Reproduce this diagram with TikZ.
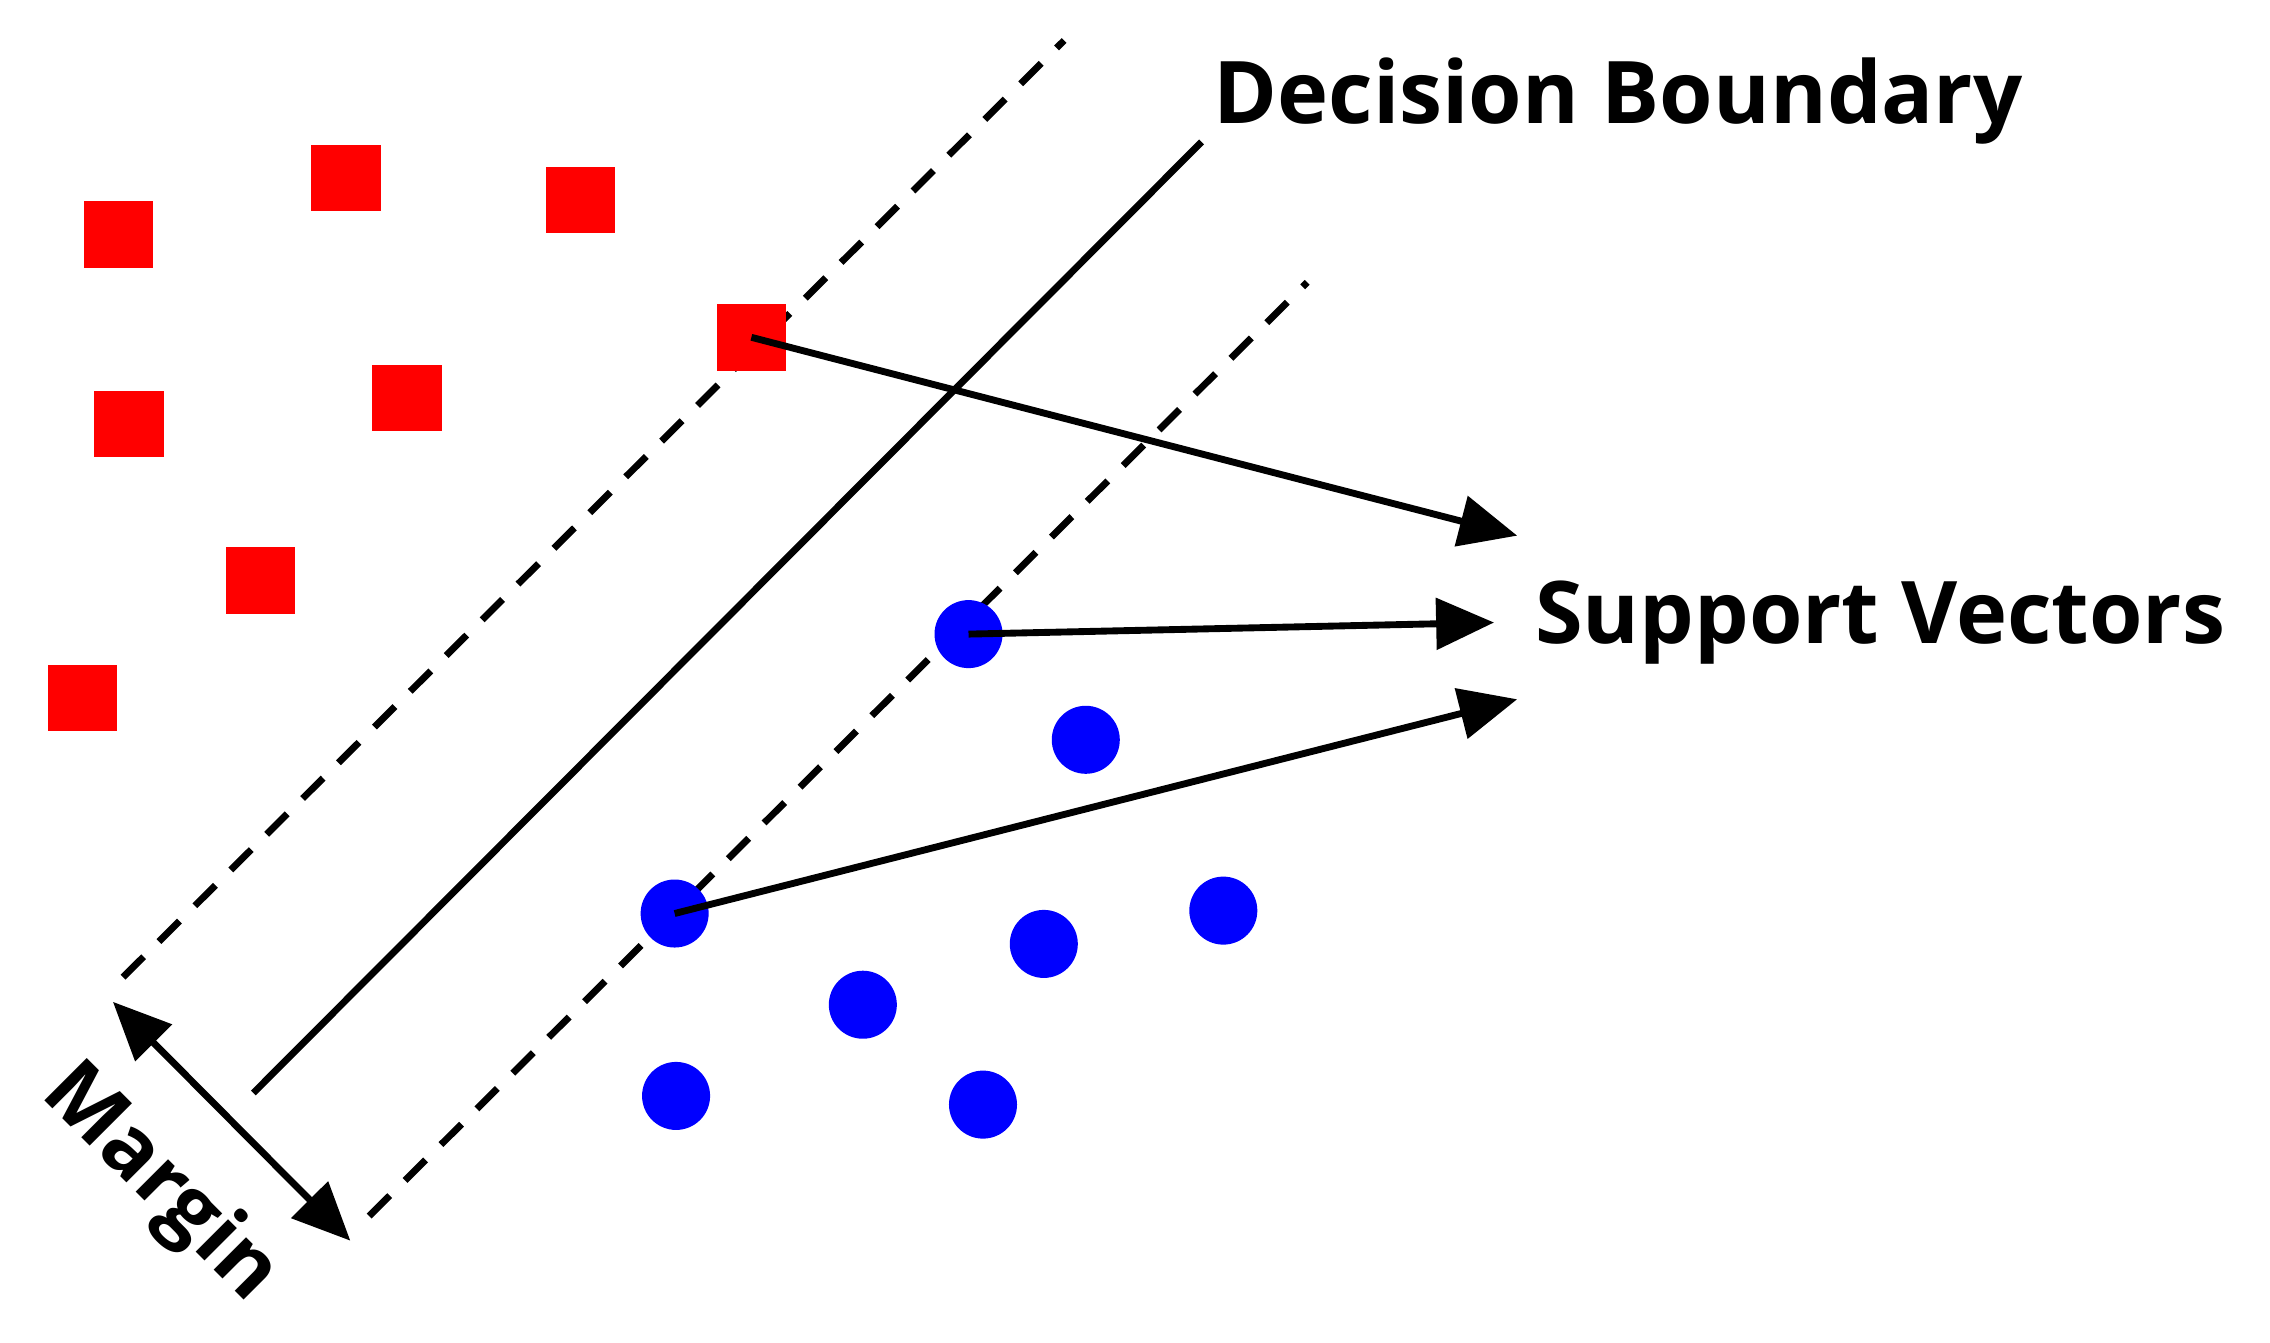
\documentclass[tikz,border=0pt]{standalone}
\usepackage{fontspec}
\setmainfont{Open Sans}
\usetikzlibrary{arrows.meta}
\begin{document}
\begin{tikzpicture}[x=0.02cm,y=-0.02cm,
  sq/.style={fill=red,minimum width=0.96cm,minimum height=0.92cm,inner sep=0},
  dot/.style={circle,fill=blue,minimum size=0.94cm,inner sep=0},
  ln/.style={line width=2.7pt},
  arr/.style={line width=2.7pt,-{Triangle[length=0.8cm,width=0.7cm]}},
  lbl/.style={font=\fontsize{34}{40}\selectfont\bfseries,anchor=west,inner sep=0}]
\useasboundingbox (0,0) rectangle (1568,927);
\draw[ln,dash pattern=on 0.4cm off 0.3cm] (85,675) coordinate(d1a) -- (735,28) coordinate(d1b);
\draw[ln] (175,755) coordinate(sa) -- (830,98) coordinate(sb);
\draw[ln,dash pattern=on 0.4cm off 0.3cm] (255,840) coordinate(d2a) -- (903,195) coordinate(d2b);
\foreach \n/\x/\y in {r1/82/162,r2/239/123,r3/401/138,r5/89/293,r6/281/275,r7/180/401,r8/57/482}
  \node[sq] (\n) at (\x,\y) {};
\node[sq] (r4) at (519,233) {};
\foreach \n/\x/\y in {b2/750/511,b4/721/652,b5/845/629,b6/596/694,b7/467/757,b8/679/763}
  \node[dot] (\n) at (\x,\y) {};
\node[dot] (b1) at (669,438) {};
\node[dot] (b3) at (466,631) {};
\node[lbl] (db) at (838,70) {Decision Boundary};
\node[lbl] (sv) at (1060,430) {Support Vectors};
\coordinate (t1) at (1048,370);
\coordinate (t2) at (1032,430);
\coordinate (t3) at (1048,483);
\draw[arr] (r4.center) -- (t1);
\draw[arr] (b1.center) -- (t2);
\draw[arr] (b3.center) -- (t3);
\coordinate (m1) at (78,692);
\coordinate (m2) at (242,857);
\draw[line width=2.7pt,{Triangle[length=0.8cm,width=0.7cm]}-{Triangle[length=0.8cm,width=0.7cm]}] (m1) -- (m2);
\node[font=\fontsize{33}{38}\selectfont\bfseries,rotate=-45,inner sep=0] (mg) at (110,818) {Margin};
\end{tikzpicture}
\end{document}
